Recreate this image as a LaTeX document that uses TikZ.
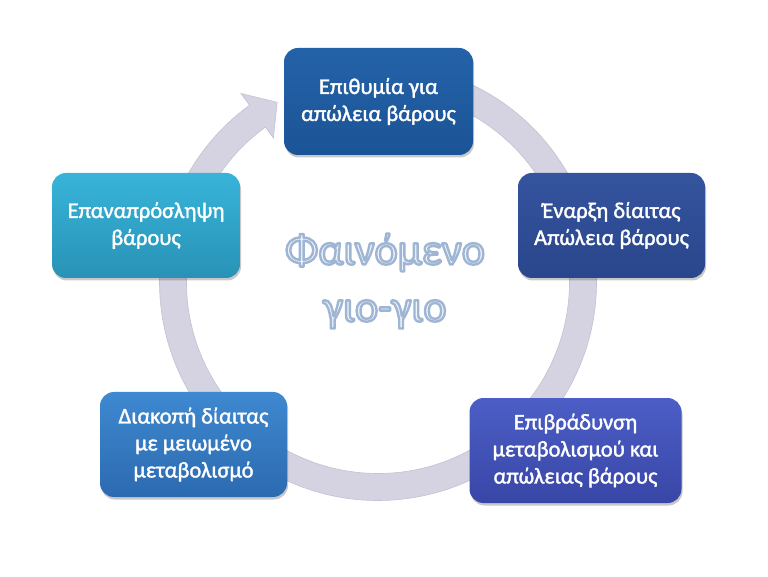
\documentclass[tikz,border=0pt]{standalone}
\usepackage{fontspec}
\setmainfont{Carlito}
\usetikzlibrary{calc,shadows}
\definecolor{arccol}{RGB}{213,210,226}
\definecolor{arcedge}{RGB}{196,193,210}
\definecolor{c1t}{RGB}{36,98,168}\definecolor{c1b}{RGB}{27,84,150}
\definecolor{c2t}{RGB}{52,84,158}\definecolor{c2b}{RGB}{42,70,140}
\definecolor{c3t}{RGB}{76,94,198}\definecolor{c3b}{RGB}{56,70,166}
\definecolor{c4t}{RGB}{62,137,208}\definecolor{c4b}{RGB}{44,106,176}
\definecolor{c5t}{RGB}{56,180,217}\definecolor{c5b}{RGB}{40,146,182}
\definecolor{tfill}{RGB}{241,245,251}
\newcommand{\outlined}[1]{\special{pdf:literal direct 0.62 0.71 0.83 RG 2.4 w 1 j 2 Tr}#1\special{pdf:literal direct 0 Tr}}
\newcommand{\heavier}[1]{\special{pdf:literal direct 1 1 1 RG 0.35 w 1 j 2 Tr}#1\special{pdf:literal direct 0 Tr}}
\tikzset{
  box/.style={rounded corners=14pt, text=white, align=center,
    font=\fontsize{22.5}{27}\selectfont, inner sep=0pt,
    drop shadow={shadow xshift=1pt, shadow yshift=-2.5pt, opacity=0.3, fill=black!70}},
  titlefont/.style={font=\fontsize{44}{57}\selectfont, align=center, inner sep=0pt}
}
\begin{document}
\begin{tikzpicture}[x=1pt,y=1pt]
\useasboundingbox (0,0) rectangle (768,576);
\fill[white] (0,0) rectangle (768,576);
\coordinate (C) at (378,294);
% circular arrow
\fill[arccol, draw=arcedge, line width=0.6pt]
  ($(C)+(95:218.5)$) arc[start angle=95, end angle=-234, radius=218.5]
  -- ($(C)+(126:233)$) -- ($(C)+(119.3:206)$) -- ($(C)+(126:178)$)
  -- ($(C)+(126:191.5)$) arc[start angle=-234, end angle=95, radius=191.5] -- cycle;
% title
\node[titlefont, text=tfill] (title) at (385,295) {\outlined{Φαινόμενο}\\\outlined{γιο-γιο}};
% boxes
\node[box, minimum width=189pt, minimum height=107pt, top color=c1t, bottom color=c1b]
  (n1) at (378.5,474.5) {\heavier{Επιθυμία για}\\\heavier{απώλεια βάρους}};
\node[box, minimum width=187pt, minimum height=105pt, top color=c2t, bottom color=c2b]
  (n2) at (611.5,350.5) {\heavier{Έναρξη δίαιτας}\\\heavier{Απώλεια βάρους}};
\node[box, minimum width=212pt, minimum height=105pt, top color=c3t, bottom color=c3b]
  (n3) at (575.5,125.5) {\heavier{Επιβράδυνση}\\\heavier{μεταβολισμού και}\\\heavier{απώλειας βάρους}};
\node[box, minimum width=187pt, minimum height=105pt, top color=c4t, bottom color=c4b]
  (n4) at (193.5,131.5) {\heavier{Διακοπή δίαιτας}\\\heavier{με μειωμένο}\\\heavier{μεταβολισμό}};
\node[box, minimum width=188pt, minimum height=105pt, top color=c5t, bottom color=c5b]
  (n5) at (146,350.5) {\heavier{Επαναπρόσληψη}\\\heavier{βάρους}};
\end{tikzpicture}
\end{document}
